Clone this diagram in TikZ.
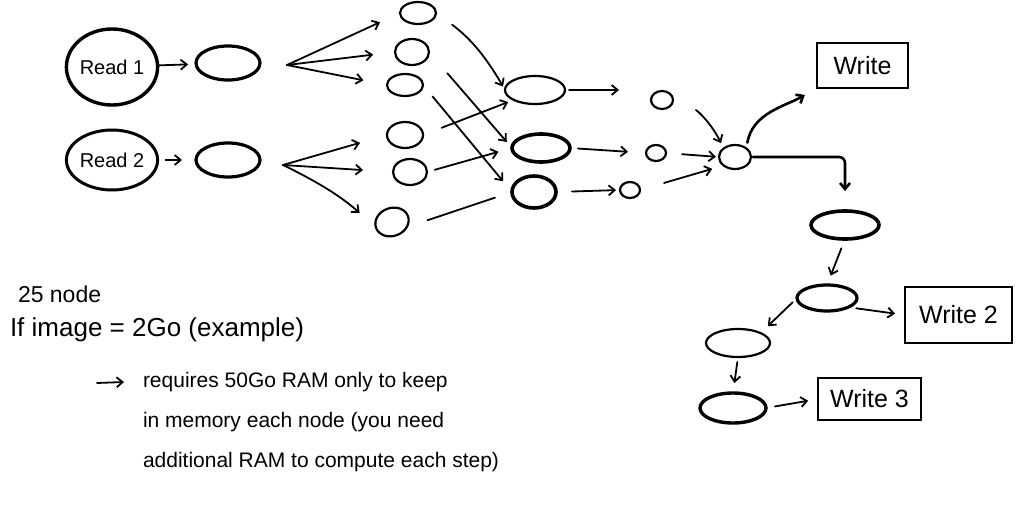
\documentclass[tikz,border=0pt]{standalone}
\usepackage{fontspec}
\setmainfont{Liberation Sans}
\usetikzlibrary{shapes.geometric,arrows.meta}
\begin{document}
\begin{tikzpicture}[x=1pt,y=-1pt,
  every node/.style={inner sep=0pt, outer sep=0pt},
  ov/.style={ellipse, draw, line width=2.2pt},
  thk/.style={line width=3.4pt},
  box/.style={draw, line width=2.6pt, rectangle, font=\fontsize{25}{27}\selectfont},
  arr/.style={line width=1.8pt, -{Straight Barb[length=6pt,width=10pt]}, line cap=round},
  ln/.style={line width=1.8pt, line cap=round},
  txt/.style={anchor=base west, font=\fontsize{21}{23}\selectfont}]
\useasboundingbox (0,0) rectangle (1024,508);
% read nodes
\node[ov, thk, minimum width=90pt, minimum height=76pt, font=\fontsize{20}{22}\selectfont] (r1) at (112,67) {Read 1};
\node[ov, line width=3pt, minimum width=80pt, minimum height=60pt, font=\fontsize{20}{22}\selectfont] (r2) at (112,160) {Read 2};
\node[ov, line width=3.2pt, minimum width=64pt, minimum height=34pt] (a1) at (228,63) {};
\node[ov, line width=3.2pt, minimum width=64pt, minimum height=34pt] (a2) at (228,160) {};
\draw[arr, shorten >=8pt] (r1) -- (a1);
\draw[arr, shorten <=8pt, shorten >=14pt] (r2) -- (a2);
% layer L
\node[ov, minimum width=36pt, minimum height=22pt] (l1) at (418,13) {};
\node[ov, minimum width=34pt, minimum height=26pt] (l2) at (412,52) {};
\node[ov, minimum width=36pt, minimum height=22pt] (l3) at (405,85) {};
\node[ov, minimum width=36pt, minimum height=26pt] (l4) at (405,135) {};
\node[ov, minimum width=34pt, minimum height=26pt] (l5) at (410,172) {};
\node[ov, minimum width=34pt, minimum height=28pt, rotate=20] (l6) at (392,222) {};
\coordinate (f1) at (287,65);
\coordinate (f2) at (283,165);
\draw[arr, shorten >=22pt] (f1) -- (l1.west);
\draw[arr, shorten >=22pt] (f1) -- (l2.west);
\draw[arr, shorten >=24pt] (f1) -- (l3.west);
\draw[arr, shorten >=28pt] (f2) -- (l4.west);
\draw[arr, shorten >=30pt] (f2) -- (l5.west);
\draw[arr, shorten >=22pt] (f2) to[bend left=8] (l6.west);
% layer C
\node[ov, minimum width=60pt, minimum height=28pt] (c1) at (535,90) {};
\node[ov, line width=3.6pt, minimum width=58pt, minimum height=28pt] (c2) at (541,148) {};
\node[ov, line width=3.6pt, minimum width=44pt, minimum height=32pt] (c3) at (534,192) {};
\draw[arr, shorten <=20pt, shorten >=4pt] (l1.east) to[bend left=12] (c1.west);
\draw[arr, shorten <=28pt, shorten >=8pt] (l2.east) -- (c2.west);
\draw[arr, shorten <=15pt, shorten >=14pt] (l3.east) -- (c3.west);
\draw[arr, shorten <=20pt, shorten >=6pt] (l4.east) -- (c1.south west);
\draw[arr, shorten <=8pt, shorten >=14pt] (l5.east) -- (c2.west);
\draw[ln, shorten <=22pt, shorten >=18pt] (l6.south east) -- (c3.west);
% layer M
\node[ov, minimum width=22pt, minimum height=18pt] (m1) at (662,100) {};
\node[ov, minimum width=20pt, minimum height=16pt] (m2) at (656,153) {};
\node[ov, minimum width=20pt, minimum height=16pt] (m3) at (630,190) {};
\draw[arr, shorten <=4pt, shorten >=32pt] (c1.east) -- (c1.east -| m1.west);
\draw[arr, shorten <=8pt, shorten >=18pt] (c2.east) -- (m2.west);
\draw[arr, shorten <=16pt, shorten >=4pt] (c3.east) -- (m3.west);
% D
\node[ov, minimum width=32pt, minimum height=24pt] (d) at (735,157) {};
\draw[arr, shorten <=25pt, shorten >=6pt] (m1.east) to[bend left=20] (d.north west);
\draw[arr, shorten <=16pt, shorten >=3pt] (m2.east) -- (d.west);
\draw[arr, shorten <=25pt, shorten >=12pt] (m3.east) -- (d.south west);
% Write
\node[box, minimum width=91pt, minimum height=45pt] (w1) at (862.5,65.5) {Write};
\draw[arr, line width=2.6pt, shorten <=6pt, shorten >=14pt] (d.north east) to[out=80,in=210] (w1.south west);
% E, F
\node[ov, line width=3.6pt, minimum width=68pt, minimum height=28pt] (e) at (845,225) {};
\draw[arr, line width=2.6pt, rounded corners=6pt, shorten <=2pt, shorten >=20pt] (d.east) -| (e.north);
\node[ov, line width=3.2pt, minimum width=60pt, minimum height=26pt] (f) at (827,298) {};
\draw[arr, shorten <=10pt, shorten >=10pt] (e.south) -- (f.north);
\node[box, minimum width=107pt, minimum height=56pt] (w2) at (958.5,315) {Write 2};
\draw[arr, shorten <=8pt, shorten >=10pt] (f.south east) -- (w2.west);
\node[ov, minimum width=64pt, minimum height=28pt] (g) at (738,343) {};
\draw[arr, shorten <=6pt, shorten >=10pt] (f.west) -- (g.north east);
\node[ov, line width=3.4pt, minimum width=66pt, minimum height=30pt] (h) at (733,408) {};
\draw[arr, shorten <=5pt, shorten >=10pt] (g.south) -- (h.north);
\node[box, minimum width=103pt, minimum height=42pt] (w3) at (869.5,399) {Write 3};
\draw[arr, shorten <=9pt, shorten >=10pt] (h.east) -- (w3.west);
% notes
\node[txt, font=\fontsize{23}{25}\selectfont] (t1) at (18,302) {25 node};
\node[txt, font=\fontsize{26}{28}\selectfont] (t2) at (10,336) {If image = 2Go (example)};
\coordinate (n1) at (97,383);
\coordinate (n2) at (124,382);
\draw[arr] (n1) -- (n2);
\node[txt] (t3) at (143,387) {requires 50Go RAM only to keep};
\node[txt] (t4) at (143,427) {in memory each node (you need};
\node[txt] (t5) at (143,467) {additional RAM to compute each step)};
\end{tikzpicture}
\end{document}
